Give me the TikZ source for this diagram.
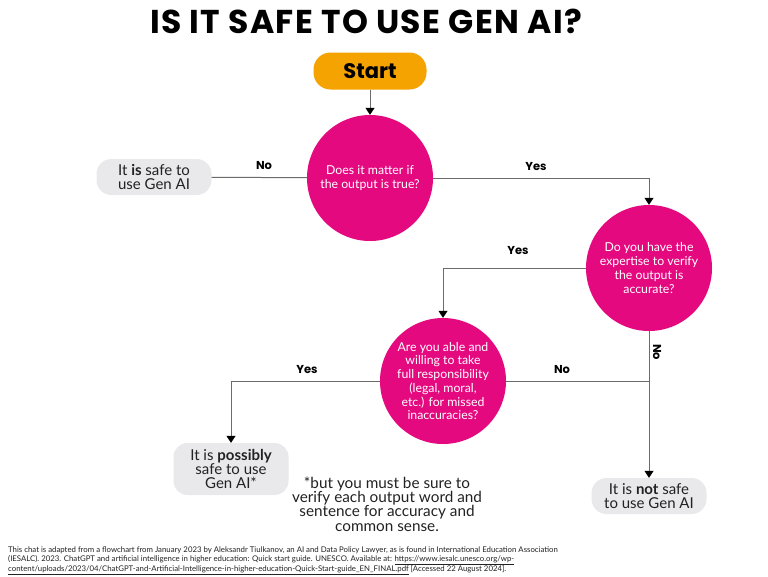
\documentclass[tikz,border=0pt]{standalone}
\usepackage{fontspec}
\setmainfont{Lato}
\newfontfamily\titlefont{Poppins}
\newfontfamily\titlefontwide[LetterSpace=4]{Poppins}
\usetikzlibrary{arrows.meta}
\definecolor{qpink}{HTML}{E5097F}
\definecolor{startorange}{HTML}{F5A300}
\definecolor{pillgray}{HTML}{E9E9EB}
\definecolor{linegray}{HTML}{6B6B6B}
\definecolor{txtdark}{HTML}{222222}
\begin{document}
\begin{tikzpicture}[x=1pt,y=-1pt,
  conn/.style={draw=linegray, line width=1pt},
  arr/.style={conn, -{Triangle[color=black,width=9pt,length=7pt]}},
  decision/.style={circle, fill=qpink, minimum size=126pt, inner sep=0pt, text=white, align=center, font=\fontsize{12.3}{13.7}\selectfont},
  pill/.style={rounded corners=15pt, fill=pillgray, align=center, inner sep=0pt, minimum width=115pt, text=txtdark, font=\fontsize{15}{14.2}\selectfont},
  lbl/.style={font=\titlefont\bfseries\fontsize{11.5}{12}\selectfont, text=black, inner sep=0pt}
]
\useasboundingbox[fill=white] (0,0) rectangle (768,576);

\node[font=\titlefontwide\bfseries\fontsize{33}{35}\selectfont, inner sep=0pt] (title) at (366,21) {IS IT SAFE TO USE GEN AI?};

\node[fill=startorange, rounded corners=17pt, minimum width=113pt, minimum height=37pt, inner sep=0pt, font=\titlefont\bfseries\fontsize{21}{22}\selectfont] (start) at (370,71) {Start};

\node[decision] (q1) at (370,178) {Does it matter if\\the output is true?};
\node[decision] (q2) at (649,268) {Do you have the\\expertise to verify\\the output is\\accurate?};
\node[decision] (q3) at (443,381) {Are you able and\\willing to take\\full responsibility\\(legal, moral,\\etc.) for missed\\inaccuracies?};

\node[pill, minimum height=36pt] (safe) at (154,177) {It \textbf{is} safe to\\use Gen AI};
\node[pill, minimum height=52pt, rounded corners=14pt] (possibly) at (231,469) {It is \textbf{possibly}\\safe to use\\Gen AI*};
\node[pill, minimum height=36pt] (notsafe) at (649,496) {It is \textbf{not} safe\\to use Gen AI};

\node[align=center, text=txtdark, font=\fontsize{15.3}{14.2}\selectfont, inner sep=0pt] (note) at (387,504) {*but you must be sure to\\verify each output word and\\sentence for accuracy and\\common sense.};

\draw[arr] (start) -- (q1);
\draw[conn] (q1) -- (safe);
\draw[arr] (q1.east) -| (q2.north);
\draw[arr] (q2.west) -| (q3.north);
\draw[arr] (q3.west) -| (possibly.north);
\coordinate (join) at (q2.south |- q3.east);
\draw[conn] (q3.east) -- (join);
\draw[arr] (q2.south) -- (notsafe.north);

\node[lbl] (l1) at (264,166) {No};
\node[lbl] (l2) at (536,167) {Yes};
\node[lbl] (l3) at (518,251) {Yes};
\node[lbl] (l4) at (307,370) {Yes};
\node[lbl] (l5) at (562,370) {No};
\node[lbl, rotate=-90] (l6) at (657,352) {No};

\node[anchor=north west, align=left, text=txtdark, font=\fontsize{7.8}{7.2}\selectfont, inner sep=0pt] (foot) at (8,547) {This chat is adapted from a flowchart from January 2023 by Aleksandr Tiulkanov, an AI and Data Policy Lawyer, as is found in International Education Association\\(IESALC). 2023. ChatGPT and artificial intelligence in higher education: Quick start guide. UNESCO. Available at: \underline{https://www.iesalc.unesco.org/wp-}\\\underline{content/uploads/2023/04/ChatGPT-and-Artificial-Intelligence-in-higher-education-Quick-Start-guide\_EN\_FINAL.pdf} [Accessed 22 August 2024].};
\end{tikzpicture}
\end{document}
